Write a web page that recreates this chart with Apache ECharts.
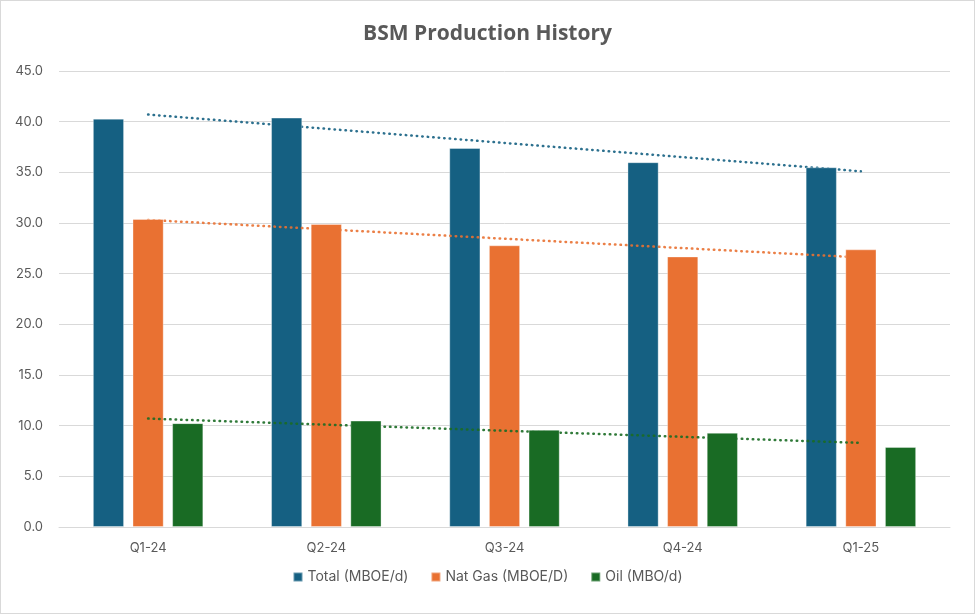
<!DOCTYPE html>
<html>
<head>
<meta charset="utf-8">
<script src="https://cdn.jsdelivr.net/npm/echarts@6/dist/echarts.min.js"></script>
<style>
html,body{margin:0;padding:0;background:#fff;}
#chart{width:973px;height:612px;border:1px solid #d9d9d9;}
</style>
</head>
<body>
<div id="chart"></div>
<script>
const categories = ['Q1-24', 'Q2-24', 'Q3-24', 'Q4-24', 'Q1-25'];
const totalValues = [40.3, 40.4, 37.4, 36.0, 35.5];
const natGasValues = [30.4, 29.9, 27.8, 26.7, 27.4];
const oilValues = [10.25, 10.5, 9.6, 9.3, 7.9];
// trendline endpoints (first and last quarter)
const totalTrend = [40.7, null, null, null, 35.1];
const natGasTrend = [30.3, null, null, null, 26.6];
const oilTrend = [10.7, null, null, null, 8.3];
const seriesNames = ['Total (MBOE/d)', 'Nat Gas (MBOE/D)', 'Oil (MBO/d)'];
const colors = ['#156082', '#E97132', '#196B24'];

const font = 'Inter, "Noto Sans", sans-serif';
const chart = echarts.init(document.getElementById('chart'));

function barSeries(i, data, z) {
  return {
    name: seriesNames[i], type: 'bar', data: data, z: z,
    barGap: '27%', barCategoryGap: '38%',
    itemStyle: { color: colors[i], borderColor: 'rgba(255,255,255,0.35)', borderWidth: 1 }
  };
}
function trendSeries(i, data, z) {
  return {
    name: seriesNames[i] + ' trend', type: 'line', data: data, z: z,
    connectNulls: true, symbol: 'none', silent: true,
    lineStyle: { color: colors[i], width: 2.5, type: [0.5, 5], cap: 'round', opacity: 0.9 }
  };
}

chart.setOption({
  animation: false,
  title: {
    text: 'BSM Production History', left: 'center', top: 18,
    textStyle: { fontFamily: '"Open Sans", sans-serif', fontSize: 21, fontWeight: 'bold', color: '#595959' }
  },
  legend: {
    data: seriesNames, bottom: 24, left: 'center', itemWidth: 9, itemHeight: 9, itemGap: 22,
    icon: 'rect',
    textStyle: { fontFamily: font, fontSize: 14, color: '#595959' }
  },
  grid: { left: 58, right: 24, top: 70, bottom: 86 },
  xAxis: {
    type: 'category', data: categories,
    axisLine: { lineStyle: { color: '#d9d9d9' } },
    axisTick: { show: false },
    axisLabel: { fontFamily: font, fontSize: 13, color: '#595959', margin: 15 }
  },
  yAxis: {
    type: 'value', min: 0, max: 45, interval: 5,
    axisLine: { show: false }, axisTick: { show: false },
    splitLine: { lineStyle: { color: '#d9d9d9', width: 1 } },
    axisLabel: { fontFamily: font, fontSize: 13, color: '#595959', margin: 16, formatter: v => v.toFixed(1) }
  },
  series: [
    trendSeries(0, totalTrend, 1),
    barSeries(0, totalValues, 2),
    trendSeries(1, natGasTrend, 3),
    barSeries(1, natGasValues, 4),
    trendSeries(2, oilTrend, 5),
    barSeries(2, oilValues, 6)
  ]
});
</script>
</body>
</html>
